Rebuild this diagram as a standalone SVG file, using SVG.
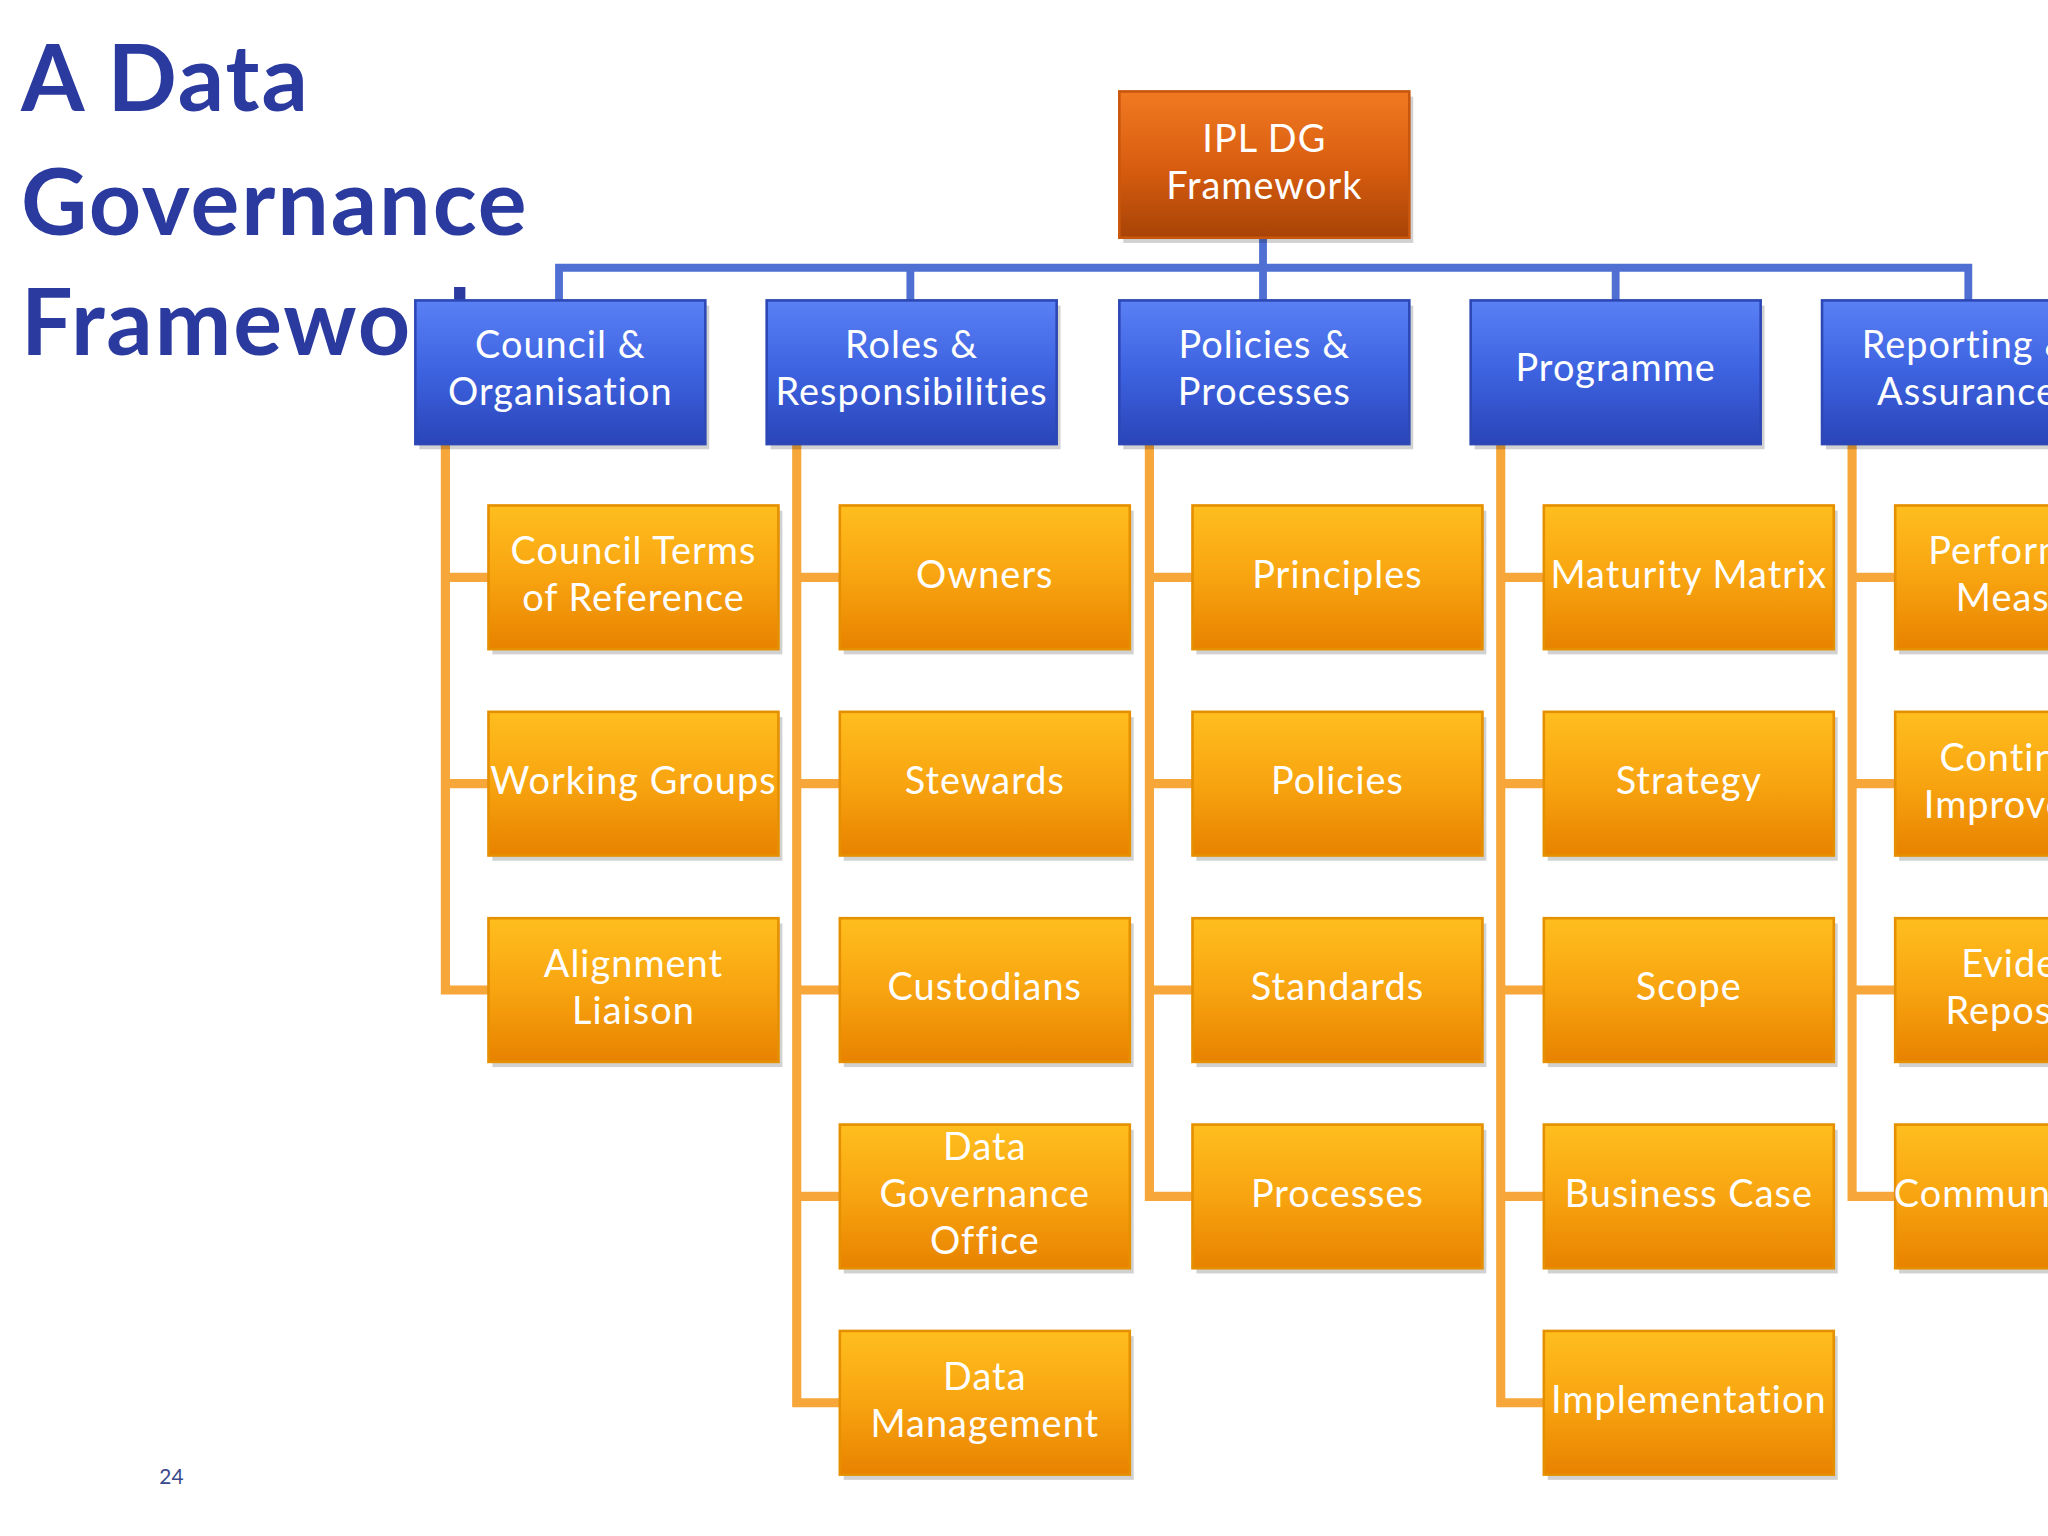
<svg xmlns="http://www.w3.org/2000/svg" width="2048" height="1536" viewBox="0 0 2048 1536">
<defs>
<linearGradient id="gRed" x1="0" y1="0" x2="0" y2="1"><stop offset="0" stop-color="#F07A22"/><stop offset="0.5" stop-color="#DA5E10"/><stop offset="1" stop-color="#A84306"/></linearGradient>
<linearGradient id="gBlue" x1="0" y1="0" x2="0" y2="1"><stop offset="0" stop-color="#5A80F5"/><stop offset="0.5" stop-color="#3D62E0"/><stop offset="1" stop-color="#2A45B8"/></linearGradient>
<linearGradient id="gOr" x1="0" y1="0" x2="0" y2="1"><stop offset="0" stop-color="#FFBE1E"/><stop offset="0.5" stop-color="#F8A410"/><stop offset="1" stop-color="#E88200"/></linearGradient>
</defs>
<style>
.t{font-family:Lato,"Open Sans",sans-serif;font-size:29px;letter-spacing:0.8px;fill:#fff;text-anchor:middle}
.title{font-family:Lato,"Open Sans",sans-serif;font-weight:bold;font-size:70px;letter-spacing:1.5px;fill:#2B3A9E}
.sh{fill:#000;opacity:0.18}
.red{fill:url(#gRed);stroke:#C8560C;stroke-width:2}
.blue{fill:url(#gBlue);stroke:#2D48B5;stroke-width:2}
.or{fill:url(#gOr);stroke:#E59000;stroke-width:2}
.bl{stroke:#4F6FD2;stroke-width:6;fill:none}
.ol{stroke:#F7A63A;stroke-width:7;fill:none}
</style>
<rect width="2048" height="1536" fill="#fff"/>
<g transform="scale(1.30612)">
<g id="title">
<text class="title" x="16" y="85">A Data</text>
<text class="title" x="16" y="180">Governance</text>
<text class="title" x="16" y="272">Framework</text>
</g>
<text x="122" y="1136" font-family="Lato,sans-serif" font-size="16" fill="#3A4A8A">24</text>
<g id="connectors">
<path class="bl" d="M967,182V205M428,205H1507M428,202V232M697,202V232M967,202V232M1237,202V232M1507,202V232"/>
<path class="ol" d="M341,340V758H376M341,442H376M341,600H376"/>
<path class="ol" d="M610,340V1074H645M610,442H645M610,600H645M610,758H645M610,916H645"/>
<path class="ol" d="M880,340V916H915M880,442H915M880,600H915M880,758H915"/>
<path class="ol" d="M1149,340V1074H1184M1149,442H1184M1149,600H1184M1149,758H1184M1149,916H1184"/>
<path class="ol" d="M1418,340V916H1453M1418,442H1453M1418,600H1453M1418,758H1453"/>
</g>
<g id="root"><rect class="sh" x="860" y="74" width="222" height="112"/><rect class="red" x="857" y="70" width="222" height="112"/><text class="t" x="968" y="116">IPL DG</text><text class="t" x="968" y="152">Framework</text></g>
<g id="l2">
<g id="n-council"><rect class="sh" x="321" y="234" width="222" height="110"/><rect class="blue" x="318" y="230" width="222" height="110"/><text class="t" x="429" y="274">Council &amp;</text><text class="t" x="429" y="310">Organisation</text></g>
<g id="n-roles"><rect class="sh" x="590" y="234" width="222" height="110"/><rect class="blue" x="587" y="230" width="222" height="110"/><text class="t" x="698" y="274">Roles &amp;</text><text class="t" x="698" y="310">Responsibilities</text></g>
<g id="n-policies"><rect class="sh" x="860" y="234" width="222" height="110"/><rect class="blue" x="857" y="230" width="222" height="110"/><text class="t" x="968" y="274">Policies &amp;</text><text class="t" x="968" y="310">Processes</text></g>
<g id="n-programme"><rect class="sh" x="1129" y="234" width="222" height="110"/><rect class="blue" x="1126" y="230" width="222" height="110"/><text class="t" x="1237" y="292">Programme</text></g>
<g id="n-reporting"><rect class="sh" x="1398" y="234" width="222" height="110"/><rect class="blue" x="1395" y="230" width="222" height="110"/><text class="t" x="1506" y="274">Reporting &amp;</text><text class="t" x="1506" y="310">Assurance</text></g>
</g>
<g id="c1">
<g><rect class="sh" x="377" y="391" width="222" height="110"/><rect class="or" x="374" y="387" width="222" height="110"/><text class="t" x="485" y="432">Council Terms</text><text class="t" x="485" y="468">of Reference</text></g>
<g><rect class="sh" x="377" y="549" width="222" height="110"/><rect class="or" x="374" y="545" width="222" height="110"/><text class="t" x="485" y="608">Working Groups</text></g>
<g><rect class="sh" x="377" y="707" width="222" height="110"/><rect class="or" x="374" y="703" width="222" height="110"/><text class="t" x="485" y="748">Alignment</text><text class="t" x="485" y="784">Liaison</text></g>
</g>
<g id="c2">
<g><rect class="sh" x="646" y="391" width="222" height="110"/><rect class="or" x="643" y="387" width="222" height="110"/><text class="t" x="754" y="450">Owners</text></g>
<g><rect class="sh" x="646" y="549" width="222" height="110"/><rect class="or" x="643" y="545" width="222" height="110"/><text class="t" x="754" y="608">Stewards</text></g>
<g><rect class="sh" x="646" y="707" width="222" height="110"/><rect class="or" x="643" y="703" width="222" height="110"/><text class="t" x="754" y="766">Custodians</text></g>
<g><rect class="sh" x="646" y="865" width="222" height="110"/><rect class="or" x="643" y="861" width="222" height="110"/><text class="t" x="754" y="888">Data</text><text class="t" x="754" y="924">Governance</text><text class="t" x="754" y="960">Office</text></g>
<g><rect class="sh" x="646" y="1023" width="222" height="110"/><rect class="or" x="643" y="1019" width="222" height="110"/><text class="t" x="754" y="1064">Data</text><text class="t" x="754" y="1100">Management</text></g>
</g>
<g id="c3">
<g><rect class="sh" x="916" y="391" width="222" height="110"/><rect class="or" x="913" y="387" width="222" height="110"/><text class="t" x="1024" y="450">Principles</text></g>
<g><rect class="sh" x="916" y="549" width="222" height="110"/><rect class="or" x="913" y="545" width="222" height="110"/><text class="t" x="1024" y="608">Policies</text></g>
<g><rect class="sh" x="916" y="707" width="222" height="110"/><rect class="or" x="913" y="703" width="222" height="110"/><text class="t" x="1024" y="766">Standards</text></g>
<g><rect class="sh" x="916" y="865" width="222" height="110"/><rect class="or" x="913" y="861" width="222" height="110"/><text class="t" x="1024" y="924">Processes</text></g>
</g>
<g id="c4">
<g><rect class="sh" x="1185" y="391" width="222" height="110"/><rect class="or" x="1182" y="387" width="222" height="110"/><text class="t" x="1293" y="450">Maturity Matrix</text></g>
<g><rect class="sh" x="1185" y="549" width="222" height="110"/><rect class="or" x="1182" y="545" width="222" height="110"/><text class="t" x="1293" y="608">Strategy</text></g>
<g><rect class="sh" x="1185" y="707" width="222" height="110"/><rect class="or" x="1182" y="703" width="222" height="110"/><text class="t" x="1293" y="766">Scope</text></g>
<g><rect class="sh" x="1185" y="865" width="222" height="110"/><rect class="or" x="1182" y="861" width="222" height="110"/><text class="t" x="1293" y="924">Business Case</text></g>
<g><rect class="sh" x="1185" y="1023" width="222" height="110"/><rect class="or" x="1182" y="1019" width="222" height="110"/><text class="t" x="1293" y="1082">Implementation</text></g>
</g>
<g id="c5">
<g><rect class="sh" x="1454" y="391" width="222" height="110"/><rect class="or" x="1451" y="387" width="222" height="110"/><text class="t" x="1562" y="432">Performance</text><text class="t" x="1562" y="468">Measures</text></g>
<g><rect class="sh" x="1454" y="549" width="222" height="110"/><rect class="or" x="1451" y="545" width="222" height="110"/><text class="t" x="1562" y="590">Continuous</text><text class="t" x="1562" y="626">Improvement</text></g>
<g><rect class="sh" x="1454" y="707" width="222" height="110"/><rect class="or" x="1451" y="703" width="222" height="110"/><text class="t" x="1562" y="748">Evidence</text><text class="t" x="1562" y="784">Repository</text></g>
<g><rect class="sh" x="1454" y="865" width="222" height="110"/><rect class="or" x="1451" y="861" width="222" height="110"/><text class="t" x="1562" y="924">Communications</text></g>
</g>
</g>
</svg>
